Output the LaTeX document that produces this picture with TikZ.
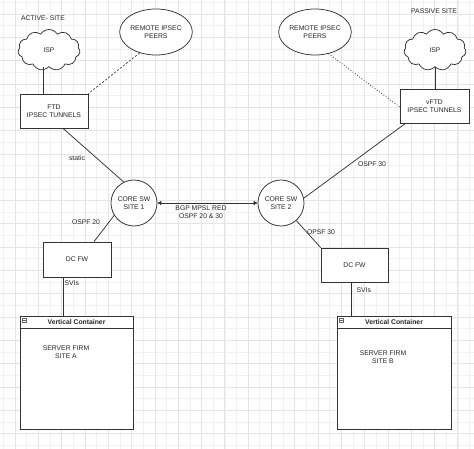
\documentclass[tikz,border=0pt]{standalone}
\usepackage{fontspec}
\setmainfont{Liberation Sans}
\usetikzlibrary{shapes.geometric,shapes.symbols,arrows.meta,calc}
\begin{document}
\begin{tikzpicture}[x=1pt,y=-1pt,
  every node/.style={font=\fontsize{6.8}{7.8}\selectfont, text=black!85, align=center},
  ln/.style={draw=black!80, line width=0.75pt},
  boxn/.style={ln, rectangle, inner sep=0pt},
  cloudn/.style={ln, cloud, cloud puffs=11, cloud puff arc=115, aspect=1.55, inner sep=0pt, minimum width=62pt, minimum height=41pt},
  peer/.style={ln, ellipse, inner sep=0pt, minimum width=69pt, minimum height=46pt},
  core/.style={ln, circle, inner sep=0pt, minimum size=46pt},
  lbl/.style={inner sep=1pt}
]
\useasboundingbox (0,0) rectangle (474,449);
\fill[white] (0,0) rectangle (474,449);
% grid
\foreach \i in {-1,...,40} {
  \draw[black!5, line width=0.4pt] ({15+11.65*\i},0) -- ({15+11.65*\i},449);
  \draw[black!5, line width=0.4pt] (0,{14+11.65*\i}) -- (474,{14+11.65*\i});
}
\foreach \i in {-1,...,20} {
  \draw[black!10, line width=0.5pt] ({15+23.3*\i},0) -- ({15+23.3*\i},449);
  \draw[black!10, line width=0.5pt] (0,{14+23.3*\i}) -- (474,{14+23.3*\i});
}

% site labels
\node[lbl] (actl) at (43,18) {ACTIVE- SITE};
\node[lbl] (pasl) at (434,11) {PASSIVE SITE};

% active side
\node[cloudn, fill=white] (isp1) at (49,50) {ISP};
\node[peer, fill=white] (rem1) at (156,32) {REMOTE IPSEC\\PEERS};
\node[boxn, fill=white, minimum width=68pt, minimum height=34pt] (ftd) at (54,111) {FTD\\IPSEC TUNNELS};
\node[core, fill=white] (sw1) at (134,203) {CORE SW\\SITE 1};
\node[boxn, fill=white, minimum width=68pt, minimum height=35pt] (dc1) at (77,259.5) {DC FW};

% passive side
\node[cloudn, fill=white] (isp2) at (435,50) {ISP};
\node[peer, fill=white] (rem2) at (315,32) {REMOTE IPSEC\\PEERS};
\node[boxn, fill=white, minimum width=69pt, minimum height=34pt] (vftd) at (434.5,106) {vFTD\\IPSEC TUNNELS};
\node[core, fill=white] (sw2) at (281,203) {CORE SW\\SITE 2};
\node[boxn, fill=white, minimum width=67pt, minimum height=34pt] (dc2) at (354.5,265) {DC FW};

% containers
\node[boxn, fill=white, minimum width=113pt, minimum height=113pt] (conA) at (76.5,372.5) {};
\node[boxn, fill=white, minimum width=114pt, minimum height=113pt] (conB) at (394,372.5) {};
\draw[ln] ($(conA.north west)+(0,13)$) -- ($(conA.north east)+(0,13)$);
\draw[ln] ($(conB.north west)+(0,13)$) -- ($(conB.north east)+(0,13)$);
\node[font=\bfseries\fontsize{6.8}{7.8}\selectfont, inner sep=0pt] (tA) at ($(conA.north)+(0,6.5)$) {Vertical Container};
\node[font=\bfseries\fontsize{6.8}{7.8}\selectfont, inner sep=0pt] (tB) at ($(conB.north)+(0,6.5)$) {Vertical Container};
\node[draw=black!60, line width=0.3pt, minimum size=4pt, inner sep=0pt] (mA) at ($(conA.north west)+(5,5)$) {};
\node[draw=black!60, line width=0.3pt, minimum size=4pt, inner sep=0pt] (mB) at ($(conB.north west)+(5,5)$) {};
\draw[black!60, line width=0.3pt] ($(mA.west)+(0.8,0)$) -- ($(mA.east)+(-0.8,0)$);
\draw[black!60, line width=0.3pt] ($(mB.west)+(0.8,0)$) -- ($(mB.east)+(-0.8,0)$);
\node[lbl] (sfA) at (66,352) {SERVER FIRM\\SITE A};
\node[lbl] (sfB) at (383,357.5) {SERVER FIRM\\SITE B};

% connectors
\coordinate (ispAx) at (43,0);
\draw[ln] (isp1.south -| ispAx) -- (ftd.north -| ispAx);
\draw[ln] (isp2.south) -- (isp2.south |- vftd.north);
\draw[ln, dash pattern=on 2.2pt off 1.6pt, line width=0.6pt] (rem1.232) -- (ftd.north east);
\draw[ln, dotted, line width=0.9pt] (rem2.302) -- ([yshift=-1pt]vftd.west);
\draw[ln] ([xshift=9pt]ftd.south) -- (sw1.116);
\draw[ln] ([xshift=17pt]dc1.north) -- (sw1.212);
\draw[ln] ([xshift=-29pt]vftd.south) -- (sw2.12);
\draw[ln] (dc2.north west) -- (sw2.311);
\draw[ln, {Triangle[length=4pt,width=4pt]}-{Triangle[length=4pt,width=4pt]}] (sw1.east) -- (sw2.west);
\draw[ln] ([xshift=-14pt]dc1.south) -- ([xshift=-14pt]dc1.south |- conA.north);
\draw[ln] ([xshift=-3.5pt]dc2.south) -- ([xshift=-3.5pt]dc2.south |- conB.north);

% connector labels
\node[lbl] (l1) at (77,158) {static};
\node[lbl] (l2) at (201,212.5) {BGP MPSL RED\\OSPF 20 \& 30};
\node[lbl] (l3) at (86,222) {OSPF 20};
\node[lbl, anchor=west] (l4) at (63.5,283.5) {SVIs};
\node[lbl] (l5) at (372,164) {OSPF 30};
\node[lbl] (l6) at (321,232) {OPSF 30};
\node[lbl, anchor=west] (l7) at (355.5,290) {SVIs};
\end{tikzpicture}
\end{document}
